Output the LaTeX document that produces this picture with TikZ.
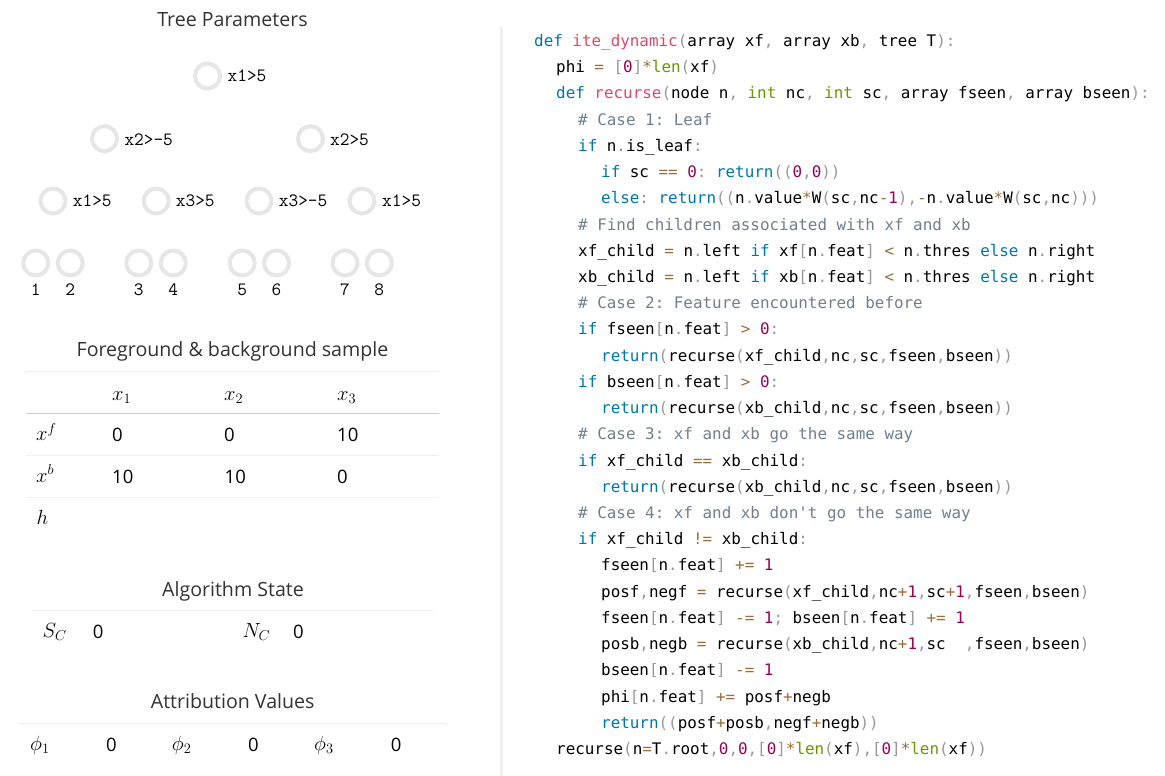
\RequirePackage{fix-cm}
\documentclass[tikz,border=0pt]{standalone}
\usepackage[no-math]{fontspec}
\setmonofont{DejaVu Sans Mono}
\newfontfamily\uifont{Open Sans}
\newcommand{\treefont}{\fontfamily{lmtt}\selectfont}
\definecolor{kwC}{HTML}{0077AA}
\definecolor{fnC}{HTML}{DD4A68}
\definecolor{puC}{HTML}{999999}
\definecolor{nmC}{HTML}{990055}
\definecolor{biC}{HTML}{669900}
\definecolor{opC}{HTML}{9A6E3A}
\definecolor{cmC}{HTML}{708090}
\definecolor{ttlC}{HTML}{333333}
\definecolor{ringC}{HTML}{E6E6E6}
\definecolor{ruleC}{HTML}{EEEEEE}
\definecolor{hdrC}{HTML}{CCCCCC}
\definecolor{divC}{HTML}{F0F0F0}
\newcommand{\qk}[1]{\textcolor{kwC}{#1}}
\newcommand{\qf}[1]{\textcolor{fnC}{#1}}
\newcommand{\qp}[1]{\textcolor{puC}{#1}}
\newcommand{\qn}[1]{\textcolor{nmC}{#1}}
\newcommand{\qb}[1]{\textcolor{biC}{#1}}
\newcommand{\qo}[1]{\textcolor{opC}{#1}}
\newcommand{\qc}[1]{\textcolor{cmC}{#1}}
\tikzset{
  ttl/.style={font=\uifont\fontsize{19.6}{24}\selectfont, text=ttlC, inner sep=0pt, anchor=base},
  val/.style={font=\uifont\fontsize{18.5}{22}\selectfont, text=black, inner sep=0pt, anchor=base west},
  mth/.style={font=\fontsize{20.5}{24}\selectfont, inner sep=0pt, anchor=base west},
  tnode/.style={circle, draw=ringC, line width=4pt, minimum size=25pt, inner sep=0pt},
  tlbl/.style={font=\treefont\fontsize{18.8}{22}\selectfont, text=black, inner sep=0pt, anchor=base west},
  leafnum/.style={font=\treefont\fontsize{18.8}{22}\selectfont, text=black, inner sep=0pt, anchor=base},
  code/.style={font=\ttfamily\fontsize{15.9}{20}\selectfont, text=black, inner sep=0pt, anchor=base west},
  rulethin/.style={draw=ruleC, line width=1pt},
  rulehdr/.style={draw=hdrC, line width=1.3pt},
}
\begin{document}
\begin{tikzpicture}[x=1pt,y=-1pt]
\useasboundingbox[fill=white] (0,0) rectangle (1165,776);
% divider
\draw[divC, line width=3pt] (501,27) -- (501,776);

% ---------- Tree Parameters ----------
\node[ttl] (tTree) at (232.5,26.7) {Tree Parameters};
\node[tnode] (r) at (207.5,76) {};
\node[tlbl] (rl) at (227.5,81.7) {x1>5};
\node[tnode] (a) at (104.5,138.7) {};
\node[tlbl] (al) at (124.3,145) {x2>-5};
\node[tnode] (b) at (310.5,138.7) {};
\node[tlbl] (bl) at (330,145) {x2>5};
\node[tnode] (c1) at (53,201) {};
\node[tlbl] (c1l) at (72.7,206.7) {x1>5};
\node[tnode] (c2) at (156.2,201) {};
\node[tlbl] (c2l) at (175.7,206.7) {x3>5};
\node[tnode] (c3) at (259,201) {};
\node[tlbl] (c3l) at (278.7,206.7) {x3>-5};
\node[tnode] (c4) at (362,201) {};
\node[tlbl] (c4l) at (382,206.7) {x1>5};
\foreach \i/\x in {1/35.8,2/70.3,3/138.8,4/173.3,5/242.2,6/276.5,7/345,8/379.3}{
  \node[tnode] (leaf\i) at (\x,263) {};
  \node[leafnum] (leafn\i) at (\x,295) {\i};
}

% ---------- Foreground & background sample ----------
\node[ttl] (tFB) at (232.5,356.7) {Foreground \& background sample};
\draw[rulethin] (26,371.7) -- (439,371.7);
\node[mth] (h1) at (112,400.7) {$x_1$};
\node[mth] (h2) at (224,400.7) {$x_2$};
\node[mth] (h3) at (337,400.7) {$x_3$};
\draw[rulehdr] (26,413.3) -- (439,413.3);
\node[mth] (xf) at (36,440.5) {$x^f$};
\node[val] (xf1) at (112,441.7) {0};
\node[val] (xf2) at (224,441.7) {0};
\node[val] (xf3) at (337,441.7) {10};
\draw[rulethin] (26,455.7) -- (439,455.7);
\node[mth] (xb) at (36,482) {$x^b$};
\node[val] (xb1) at (112,483.3) {10};
\node[val] (xb2) at (224.5,483.3) {10};
\node[val] (xb3) at (337,483.3) {0};
\draw[rulethin] (26,497.3) -- (439,497.3);
\node[mth] (hrow) at (36.5,524.3) {$h$};

% ---------- Algorithm State ----------
\node[ttl] (tAS) at (233,596) {Algorithm State};
\draw[rulethin] (32,610.7) -- (433,610.7);
\node[mth] (sc) at (42.5,637.3) {$S_C$};
\node[val] (scv) at (92.7,638.3) {0};
\node[mth] (nc) at (242.3,637.3) {$N_C$};
\node[val] (ncv) at (293,638.3) {0};

% ---------- Attribution Values ----------
\node[ttl] (tAV) at (232.7,708.3) {Attribution Values};
\draw[rulethin] (19,723.3) -- (446,723.3);
\node[mth] (p1) at (30,750) {$\phi_1$};
\node[val] (p1v) at (106,751) {0};
\node[mth] (p2) at (171.7,750) {$\phi_2$};
\node[val] (p2v) at (248,751) {0};
\node[mth] (p3) at (314,750) {$\phi_3$};
\node[val] (p3v) at (390.7,751) {0};

% ---------- Code ----------
\def\LA{534}\def\LB{556}\def\LC{578}\def\LD{601}
\def\yy#1{46.5+26.22*#1}
\node[code] (k1) at (\LA,{\yy{0}}) {\qk{def} \qf{ite\_dynamic}\qp{(}array xf\qp{,} array xb\qp{,} tree T\qp{):}};
\node[code] (k2) at (\LB,{\yy{1}}) {phi \qo{=} \qp{[}\qn{0}\qp{]}\qo{*}\qb{len}\qp{(}xf\qp{)}};
\node[code] (k3) at (\LB,{\yy{2}}) {\qk{def} \qf{recurse}\qp{(}node n\qp{,} \qb{int} nc\qp{,} \qb{int} sc\qp{,} array fseen\qp{,} array bseen\qp{):}};
\node[code] (k4) at (\LC,{\yy{3}}) {\qc{\# Case 1: Leaf}};
\node[code] (k5) at (\LC,{\yy{4}}) {\qk{if} n\qp{.}is\_leaf\qp{:}};
\node[code] (k6) at (\LD,{\yy{5}}) {\qk{if} sc \qo{==} \qn{0}\qp{:} \qk{return}\qp{((}\qn{0}\qp{,}\qn{0}\qp{))}};
\node[code] (k7) at (\LD,{\yy{6}}) {\qk{else}\qp{:} \qk{return}\qp{((}n\qp{.}value\qo{*}W\qp{(}sc\qp{,}nc\qo{-}\qn{1}\qp{),}\qo{-}n\qp{.}value\qo{*}W\qp{(}sc\qp{,}nc\qp{)))}};
\node[code] (k8) at (\LC,{\yy{7}}) {\qc{\# Find children associated with xf and xb}};
\node[code] (k9) at (\LC,{\yy{8}}) {xf\_child \qo{=} n\qp{.}left \qk{if} xf\qp{[}n\qp{.}feat\qp{]} \qo{<} n\qp{.}thres \qk{else} n\qp{.}right};
\node[code] (k10) at (\LC,{\yy{9}}) {xb\_child \qo{=} n\qp{.}left \qk{if} xb\qp{[}n\qp{.}feat\qp{]} \qo{<} n\qp{.}thres \qk{else} n\qp{.}right};
\node[code] (k11) at (\LC,{\yy{10}}) {\qc{\# Case 2: Feature encountered before}};
\node[code] (k12) at (\LC,{\yy{11}}) {\qk{if} fseen\qp{[}n\qp{.}feat\qp{]} \qo{>} \qn{0}\qp{:}};
\node[code] (k13) at (\LD,{\yy{12}}) {\qk{return}\qp{(}recurse\qp{(}xf\_child\qp{,}nc\qp{,}sc\qp{,}fseen\qp{,}bseen\qp{))}};
\node[code] (k14) at (\LC,{\yy{13}}) {\qk{if} bseen\qp{[}n\qp{.}feat\qp{]} \qo{>} \qn{0}\qp{:}};
\node[code] (k15) at (\LD,{\yy{14}}) {\qk{return}\qp{(}recurse\qp{(}xb\_child\qp{,}nc\qp{,}sc\qp{,}fseen\qp{,}bseen\qp{))}};
\node[code] (k16) at (\LC,{\yy{15}}) {\qc{\# Case 3: xf and xb go the same way}};
\node[code] (k17) at (\LC,{\yy{16}}) {\qk{if} xf\_child \qo{==} xb\_child\qp{:}};
\node[code] (k18) at (\LD,{\yy{17}}) {\qk{return}\qp{(}recurse\qp{(}xb\_child\qp{,}nc\qp{,}sc\qp{,}fseen\qp{,}bseen\qp{))}};
\node[code] (k19) at (\LC,{\yy{18}}) {\qc{\# Case 4: xf and xb don't go the same way}};
\node[code] (k20) at (\LC,{\yy{19}}) {\qk{if} xf\_child \qo{!=} xb\_child\qp{:}};
\node[code] (k21) at (\LD,{\yy{20}}) {fseen\qp{[}n\qp{.}feat\qp{]} \qo{+=} \qn{1}};
\node[code] (k22) at (\LD,{\yy{21}}) {posf\qp{,}negf \qo{=} recurse\qp{(}xf\_child\qp{,}nc\qo{+}\qn{1}\qp{,}sc\qo{+}\qn{1}\qp{,}fseen\qp{,}bseen\qp{)}};
\node[code] (k23) at (\LD,{\yy{22}}) {fseen\qp{[}n\qp{.}feat\qp{]} \qo{-=} \qn{1}\qp{;} bseen\qp{[}n\qp{.}feat\qp{]} \qo{+=} \qn{1}};
\node[code] (k24) at (\LD,{\yy{23}}) {posb\qp{,}negb \qo{=} recurse\qp{(}xb\_child\qp{,}nc\qo{+}\qn{1}\qp{,}sc\phantom{00}\qp{,}fseen\qp{,}bseen\qp{)}};
\node[code] (k25) at (\LD,{\yy{24}}) {bseen\qp{[}n\qp{.}feat\qp{]} \qo{-=} \qn{1}};
\node[code] (k26) at (\LD,{\yy{25}}) {phi\qp{[}n\qp{.}feat\qp{]} \qo{+=} posf\qo{+}negb};
\node[code] (k27) at (\LD,{\yy{26}}) {\qk{return}\qp{((}posf\qo{+}posb\qp{,}negf\qo{+}negb\qp{))}};
\node[code] (k28) at (\LB,{\yy{27}}) {recurse\qp{(}n\qo{=}T\qp{.}root\qp{,}\qn{0}\qp{,}\qn{0}\qp{,[}\qn{0}\qp{]}\qo{*}\qb{len}\qp{(}xf\qp{),[}\qn{0}\qp{]}\qo{*}\qb{len}\qp{(}xf\qp{))}};
\end{tikzpicture}
\end{document}
